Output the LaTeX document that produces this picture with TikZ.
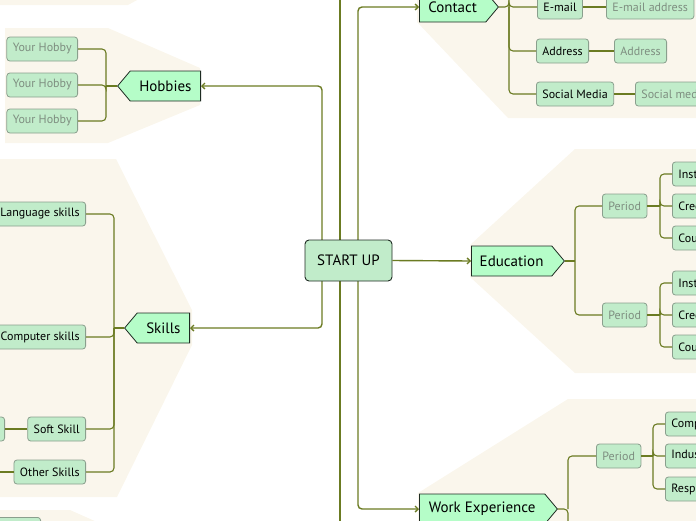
\documentclass[tikz,border=0pt]{standalone}
\usepackage{fontspec}
\setmainfont{PT Sans}
\usetikzlibrary{arrows.meta,shapes.symbols}
\definecolor{zonebeige}{HTML}{FAF6EC}
\definecolor{linkolive}{HTML}{6B7B22}
\definecolor{branchmint}{HTML}{B5FDC8}
\definecolor{itemgreen}{HTML}{C1ECCA}
\definecolor{itemedge}{HTML}{8A9F8D}
\definecolor{nodeedge}{HTML}{1E2B22}
\definecolor{hintgrey}{HTML}{7E8E80}

\begin{document}
\begin{tikzpicture}[x=1pt,y=-1pt,>={Straight Barb[length=3pt,width=6pt]},
  zone/.style={fill=zonebeige},
  link/.style={draw=linkolive,line width=1.1pt,rounded corners=4pt},
  trunk/.style={link,line width=1.4pt},
  branch/.style={signal,draw=nodeedge,fill=branchmint,line width=0.8pt,
    font=\fontsize{15}{17}\selectfont,minimum height=30pt,signal pointer angle=100},
  item/.style={draw=itemedge,fill=itemgreen,line width=0.8pt,rounded corners=3pt,
    font=\fontsize{12}{14}\selectfont,minimum height=24pt,inner xsep=6pt},
  hint/.style={item,text=hintgrey},
  startbox/.style={draw=nodeedge,fill=itemgreen,line width=0.9pt,rounded corners=4pt,
    font=\fontsize{15}{17}\selectfont,minimum width=87pt,minimum height=41pt}]
  \useasboundingbox (0,0) rectangle (696,520);
  \clip (0,0) rectangle (696,520);

  % background zones
  \fill[zone] (-5,-20) -- (174,-20) -- (128,5) -- (-5,5) -- cycle;
  \fill[zone] (5,28) -- (108,28) -- (200,68) -- (200,105) -- (108,143) -- (5,143) -- cycle;
  \fill[zone] (-5,159) -- (116,159) -- (192,310) -- (192,345) -- (117,497) -- (-5,497) -- cycle;
  \fill[zone] (-5,510) -- (70,510) -- (160,550) -- (-5,550) -- cycle;
  \fill[zone] (417,-30) -- (417,22) -- (508,118) -- (720,118) -- (720,-30) -- cycle;
  \fill[zone] (470,245) -- (575,149) -- (720,149) -- (720,373) -- (575,373) -- (470,277) -- cycle;
  \fill[zone] (418,493) -- (568,399) -- (720,399) -- (720,540) -- (418,540) -- cycle;

  % hobbies
  \node[branch,signal to=west,minimum width=83pt,anchor=east] (hobbies) at (201,86) {Hobbies};
  \coordinate (hfork) at (106,86);
  \draw[link] (hobbies.west) -- (hfork);
  \foreach \i/\y in {1/49,2/85,3/121}{
    \node[hint,anchor=east] (hob\i) at (78,\y) {Your Hobby};
    \draw[link] (hfork) |- (hob\i.east);
  }

  % skills
  \node[branch,signal to=west,minimum width=65pt,anchor=east] (skills) at (190,328) {Skills};
  \coordinate (skfork) at (114,328);
  \draw[link] (skills.west) -- (skfork);
  \node[item,anchor=east] (lang) at (86,214) {Language skills};
  \node[item,anchor=east] (comp) at (86,337) {Computer skills};
  \node[item,anchor=east] (soft) at (86,429) {Soft Skill};
  \node[item,anchor=east] (other) at (86,472) {Other Skills};
  \foreach \n in {lang,comp,soft,other}
    \draw[link] (skfork) |- (\n.east);
  \node[item,anchor=east,minimum width=60pt] (softsub) at (5,429) {};
  \node[item,anchor=east,minimum width=60pt] (othersub) at (-4,472) {};
  \draw[link] (soft.west) -- (softsub.east);
  \draw[link] (other.west) -- (othersub.east);
  \node[item,anchor=north east,minimum width=60pt] (lowbox) at (41,517) {};

  % contact
  \node[branch,signal to=east,minimum width=79pt,anchor=west] (contact) at (419,7) {Contact};
  \coordinate (cfork) at (509,7);
  \coordinate (cup) at (509,-20);
  \draw[link] (contact.east) -- (cfork) -- (cup);
  \node[item,anchor=west] (email) at (537,7) {E-mail};
  \node[hint,anchor=west] (emailv) at (606,7) {E-mail address};
  \node[item,anchor=west] (addr) at (536,51) {Address};
  \node[hint,anchor=west] (addrv) at (614,51) {Address};
  \node[item,anchor=west] (social) at (536,94) {Social Media};
  \node[hint,anchor=west] (socialv) at (635,94) {Social media};
  \foreach \n in {email,addr,social}{
    \draw[link] (cfork) |- (\n.west);
    \draw[link] (\n.east) -- (\n v.west);
  }

  % education
  \node[branch,signal to=east,minimum width=93pt,anchor=west] (edu) at (471,261) {Education};
  \coordinate (efork) at (575,261);
  \draw[link] (edu.east) -- (efork);
  \foreach \p/\y in {1/206,2/315}{
    \node[hint,anchor=west] (per\p) at (602,\y) {Period};
    \coordinate (pfork\p) at (660,\y);
    \draw[link] (efork) |- (per\p.west);
    \draw[link] (per\p.east) -- (pfork\p);
    \foreach \t/\d [count=\k] in {Institution/-32,Credential/0,Course/32}{
      \node[item,anchor=west] (ed\p\k) at (672,\y+\d) {\t};
      \draw[link] (pfork\p) |- (ed\p\k.west);
    }
  }

  % work experience
  \node[branch,signal to=east,minimum width=138pt,anchor=west] (work) at (419,509) {Work Experience};
  \coordinate (wfork) at (568,509);
  \coordinate (wdown) at (568,540);
  \draw[link] (work.east) -- (wfork) -- (wdown);
  \node[hint,anchor=west] (wper) at (596,456) {Period};
  \coordinate (wpfork) at (653,456);
  \draw[link] (wfork) |- (wper.west);
  \draw[link] (wper.east) -- (wpfork);
  \foreach \t/\y [count=\k] in {Company/424,Industry/456,Responsibilities/489}{
    \node[item,anchor=west] (job\k) at (665,\y) {\t};
    \draw[link] (wpfork) |- (job\k.west);
  }

  % trunks from the centre
  \coordinate (trunkL) at (322,261);
  \coordinate (trunkR) at (358,261);
  \coordinate (trunkTop) at (340,-20);
  \coordinate (trunkBot) at (340,540);
  \draw[trunk,->] (trunkL) |- (hobbies.east);
  \draw[trunk,->] (trunkL) |- (skills.east);
  \draw[trunk] (trunkTop) -- (trunkBot);
  \draw[trunk,->] (trunkR) |- (contact.west);
  \draw[trunk,->] (trunkR) |- (work.west);
  \node[startbox] (start) at (348.5,260.5) {START UP};
  \draw[trunk,->] (start.east) -- (edu.west);
\end{tikzpicture}
\end{document}
